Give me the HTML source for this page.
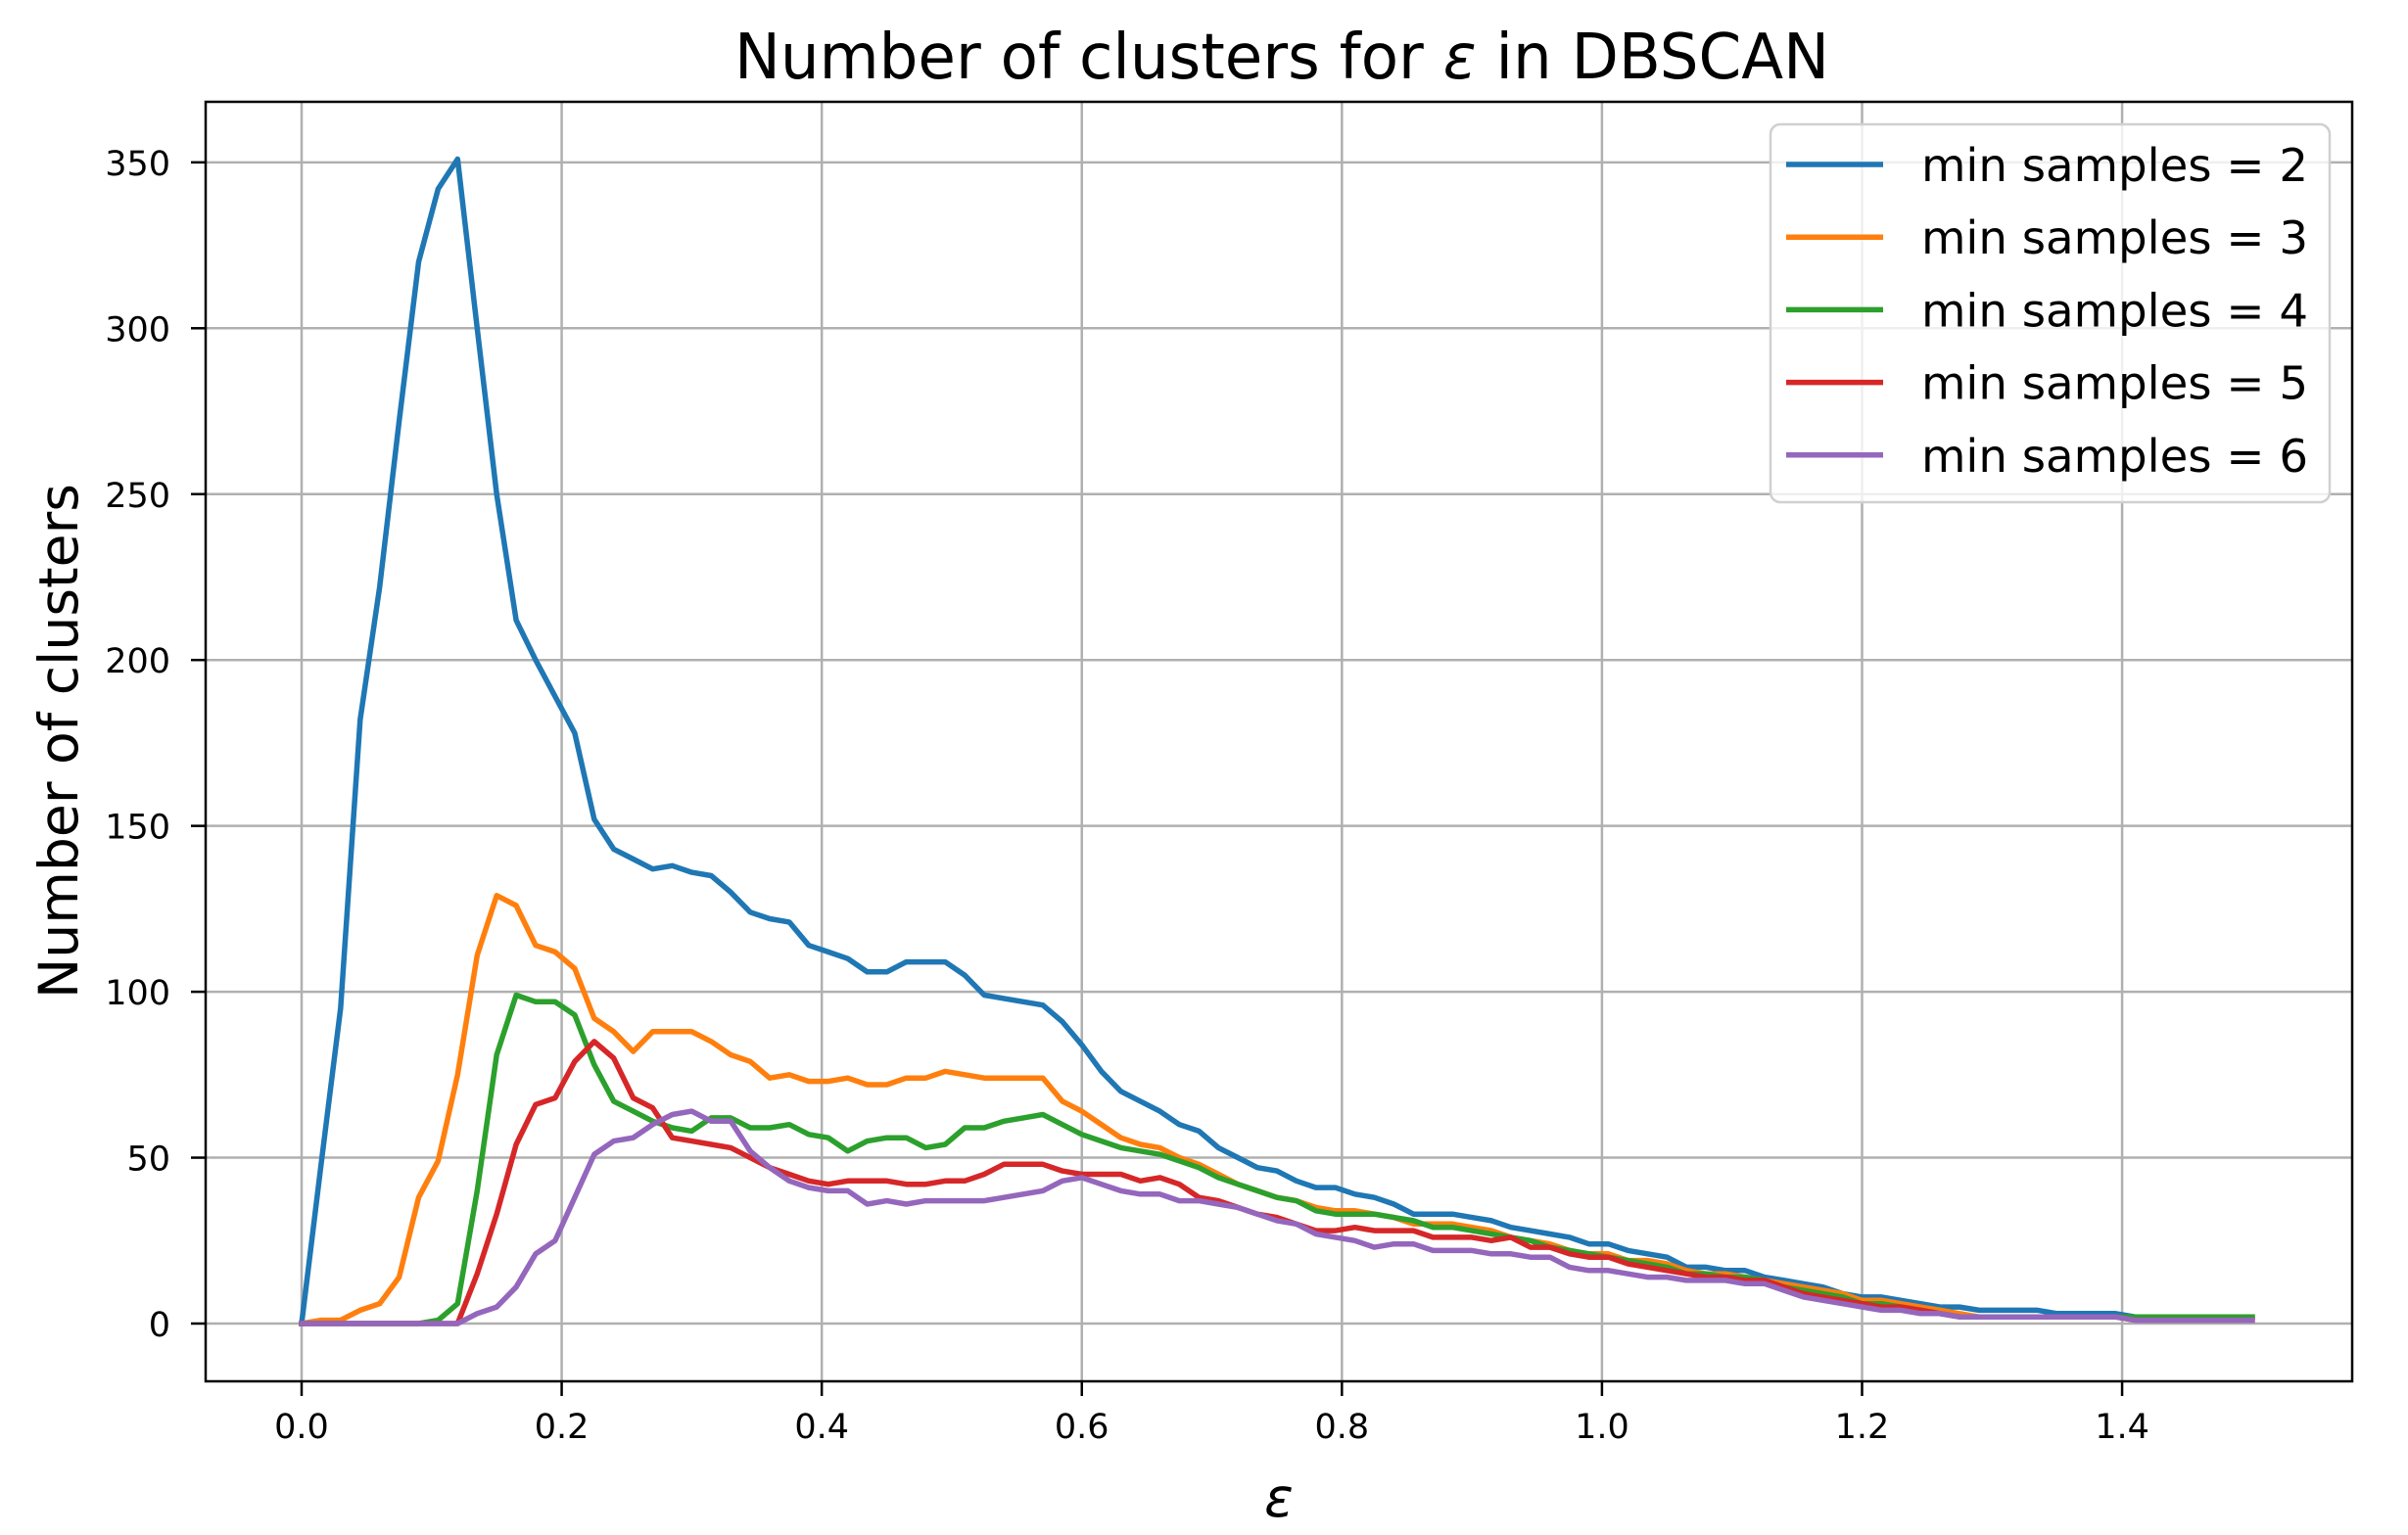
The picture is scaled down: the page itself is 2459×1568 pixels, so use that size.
<!DOCTYPE html>
<html><head><meta charset="utf-8"><style>
html,body{margin:0;padding:0;background:#fff;}
svg{display:block;}
text{font-family:"DejaVu Sans","Liberation Sans",sans-serif;fill:#000;}
</style></head><body>
<svg id="s" width="2459" height="1568" viewBox="0 0 2459 1568" xmlns="http://www.w3.org/2000/svg">
<rect x="0" y="0" width="2459" height="1568" fill="#fff"/>
<g id="grid" stroke="#b0b0b0" stroke-width="2.5"></g>
<g id="series" fill="none" stroke-width="5.5" stroke-linejoin="round" stroke-linecap="square"></g>
<rect x="210" y="104" width="2192" height="1307" fill="none" stroke="#000" stroke-width="2.5"/>
<g id="ticks" stroke="#000" stroke-width="2.5"></g>
<g id="labels" font-size="35"></g>
<text x="1309" y="80" font-size="64" text-anchor="middle" textLength="1118" lengthAdjust="spacingAndGlyphs">Number of clusters for <tspan font-style="italic">ε</tspan> in DBSCAN</text>
<text transform="translate(79,757) rotate(-90)" font-size="55" text-anchor="middle" textLength="526" lengthAdjust="spacingAndGlyphs">Number of clusters</text>
<text x="1306" y="1549" font-size="55" font-style="italic" text-anchor="middle">ε</text>
<rect x="1808" y="127" width="571" height="386" rx="10" fill="#fff" fill-opacity="0.8" stroke="#d0d0d0" stroke-width="2.5"/>
<g id="legend"></g>
</svg>
<script>
var NS="http://www.w3.org/2000/svg";
function el(t,a,p){var e=document.createElementNS(NS,t);for(var k in a)e.setAttribute(k,a[k]);p.appendChild(e);return e;}
function X(x){return 308+1327.9*x;}
function Y(v){return 1352-3.389*v;}
var grid=document.getElementById('grid'),ticks=document.getElementById('ticks'),labels=document.getElementById('labels');
for(var i=0;i<=7;i++){var x=X(i*0.2);
 el('line',{x1:x,y1:104,x2:x,y2:1411},grid);
 el('line',{x1:x,y1:1411,x2:x,y2:1426},ticks);
 var t=el('text',{x:x,y:1469,'text-anchor':'middle'},labels);t.textContent=(i*0.2).toFixed(1);}
for(var j=0;j<=7;j++){var y=Y(j*50);
 el('line',{x1:210,y1:y,x2:2402,y2:y},grid);
 el('line',{x1:195,y1:y,x2:210,y2:y},ticks);
 var t=el('text',{x:174,y:y+13,'text-anchor':'end'},labels);t.textContent=String(j*50);}
var S=[
["#1f77b4",[0,48,95,182,222,272,320,342,351,300,250,212,200,189,178,152,143,140,137,138,136,135,130,124,122,121,114,112,110,106,106,109,109,109,105,99,98,97,96,91,84,76,70,67,64,60,58,53,50,47,46,43,41,41,39,38,36,33,33,33,32,31,29,28,27,26,24,24,22,21,20,17,17,16,16,14,13,12,11,9,8,8,7,6,5,5,4,4,4,4,3,3,3,3,2,2,2,2,2,2,2]],
["#ff7f0e",[0,1,1,4,6,14,38,49,75,111,129,126,114,112,107,92,88,82,88,88,88,85,81,79,74,75,73,73,74,72,72,74,74,76,75,74,74,74,74,67,64,60,56,54,53,50,48,45,42,40,38,37,35,34,34,33,32,30,30,30,29,28,26,25,24,22,21,21,19,19,18,16,15,15,14,13,12,11,10,9,7,7,6,5,4,3,2,2,2,2,2,2,2,2,2,2,2,2,2,2,2]],
["#2ca02c",[0,0,0,0,0,0,0,1,6,40,81,99,97,97,93,78,67,64,61,59,58,62,62,59,59,60,57,56,52,55,56,56,53,54,59,59,61,62,63,60,57,55,53,52,51,49,47,44,42,40,38,37,34,33,33,33,32,31,29,29,28,27,26,25,23,22,21,20,19,18,17,15,15,14,14,13,11,10,9,8,6,6,5,4,3,2,2,2,2,2,2,2,2,2,2,2,2,2,2,2,2]],
["#d62728",[0,0,0,0,0,0,0,0,0,15,33,54,66,68,79,85,80,68,65,56,55,54,53,50,47,45,43,42,43,43,43,42,42,43,43,45,48,48,48,46,45,45,45,43,44,42,38,37,35,33,32,30,28,28,29,28,28,28,26,26,26,25,26,23,23,21,20,20,18,17,16,15,14,14,13,13,11,9,8,7,6,5,5,4,3,2,2,2,2,2,2,2,2,2,1,1,1,1,1,1,1]],
["#9467bd",[0,0,0,0,0,0,0,0,0,3,5,11,21,25,38,51,55,56,60,63,64,61,61,52,47,43,41,40,40,36,37,36,37,37,37,37,38,39,40,43,44,42,40,39,39,37,37,36,35,33,31,30,27,26,25,23,24,24,22,22,22,21,21,20,20,17,16,16,15,14,14,13,13,13,12,12,10,8,7,6,5,4,4,3,3,2,2,2,2,2,2,2,2,2,1,1,1,1,1,1,1]]
];
var sg=document.getElementById('series'),lg=document.getElementById('legend');
S.forEach(function(s,k){
 var pts=s[1].map(function(v,i){return X(i*0.015).toFixed(1)+','+Y(v).toFixed(1);}).join(' ');
 el('polyline',{points:pts,stroke:s[0]},sg);
 var ry=168+74.2*k;
 el('line',{x1:1824,y1:ry,x2:1923,y2:ry,stroke:s[0],'stroke-width':5.5},lg);
 var t=el('text',{x:1962,y:ry+17,'font-size':46.6,textLength:395,lengthAdjust:'spacingAndGlyphs'},lg);
 t.textContent='min samples = '+(k+2);
});
</script>
</body></html>
